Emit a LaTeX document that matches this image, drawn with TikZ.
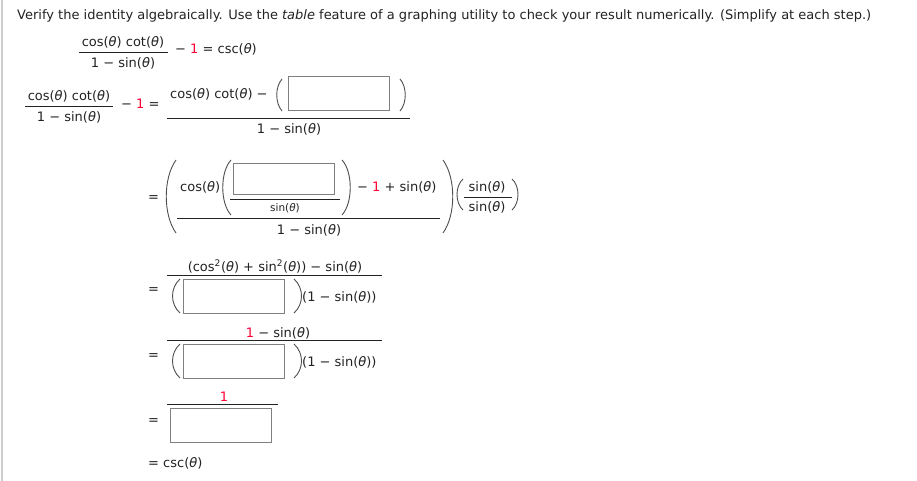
\documentclass[tikz,border=0pt]{standalone}
\usepackage{fontspec}
\setmainfont{DejaVu Sans}
\definecolor{txt}{HTML}{222222}
\definecolor{rd}{HTML}{FF0033}
\definecolor{bx}{HTML}{808080}
\newcommand{\tht}{\textit{θ}}
\newcommand{\rone}{\textcolor{rd}{1}}
\begin{document}
\begin{tikzpicture}[x=1pt,y=-1pt,font=\fontsize{13}{15}\selectfont,text=txt,
  t/.style={inner sep=0pt,anchor=base},
  tl/.style={inner sep=0pt,anchor=base west},
  ansbox/.style={draw=bx,line width=0.9pt,fill=white},
  bar/.style={line width=0.9pt,draw=txt},
  par/.style={draw=txt!80,line width=0.9pt}]
\useasboundingbox (0,0) rectangle (917,481);
\draw[black!20,line width=1.5pt] (2,0) -- (2,481);
\node[tl] (title) at (17,20) {Verify the identity algebraically. Use the \textit{table} feature of a graphing utility to check your result numerically. (Simplify at each step.)};
% eq1
\node[t] (n1) at (123,47) {cos(\tht) cot(\tht)};
\draw[bar] (79,52) -- (168,52);
\node[t] (d1) at (123,68) {1 − sin(\tht)};
\node[tl] (r1) at (175,54) {− \rone{} = csc(\tht)};
% line 2
\node[t] (n2) at (69,101) {cos(\tht) cot(\tht)};
\draw[bar] (25,106) -- (113,106);
\node[t] (d2) at (69,122) {1 − sin(\tht)};
\node[tl] (m2) at (121,109) {− \rone{} =};
\node[tl] (n2b) at (170,99) {cos(\tht) cot(\tht) −};
\draw[par] (282,79) .. controls (275,87) and (275,103) .. (282,111);
\node[ansbox,minimum width=101pt,minimum height=34pt,inner sep=0pt] (b2) at (338.5,93) {};
\draw[par] (400,79) .. controls (407,87) and (407,103) .. (400,111);
\draw[bar] (167,118) -- (410,118);
\node[t] (d2b) at (289,134) {1 − sin(\tht)};
% line 3
\node[tl] (e3) at (148,201) {=};
\draw[par] (176,160) .. controls (163,178) and (163,215) .. (176,233);
\draw[par] (443,160) .. controls (456,178) and (456,215) .. (443,233);
\node[tl] (c3) at (180,191) {cos(\tht)};
\draw[par] (231,160) .. controls (220,172) and (220,203) .. (231,215);
\draw[par] (342,160) .. controls (353,172) and (353,203) .. (342,215);
\node[ansbox,minimum width=101pt,minimum height=31pt,inner sep=0pt] (b3) at (283.5,178.5) {};
\draw[bar] (230,199) -- (340,199);
\node[t,font=\fontsize{10.5}{12}\selectfont] (s3) at (285,211) {sin(\tht)};
\node[tl] (m3) at (357,191) {− \rone{} + sin(\tht)};
\draw[bar] (177,218) -- (440,218);
\node[t] (d3) at (309,234) {1 − sin(\tht)};
\draw[par] (463,179) .. controls (455,186) and (455,203) .. (463,210);
\draw[par] (512,179) .. controls (520,186) and (520,203) .. (512,210);
\node[t] (sn) at (487,191) {sin(\tht)};
\draw[bar] (464,197) -- (512,197);
\node[t] (sd) at (487,211) {sin(\tht)};
% line 4
\node[t] (n4) at (275,271) {(cos\textsuperscript{2}(\tht) + sin\textsuperscript{2}(\tht)) − sin(\tht)};
\draw[bar] (167,275) -- (382,275);
\node[tl] (e4) at (148,293) {=};
\draw[par] (180,279) .. controls (170,288) and (170,304) .. (180,313);
\node[ansbox,minimum width=101pt,minimum height=34pt,inner sep=0pt] (b4) at (233.5,296) {};
\draw[par] (294,279) .. controls (304,288) and (304,304) .. (294,313);
\node[tl] (f4) at (302,301) {(1 − sin(\tht))};
% line 5
\node[t] (n5) at (278,337) {\rone{} − sin(\tht)};
\draw[bar] (167,340) -- (382,340);
\node[tl] (e5) at (148,359) {=};
\draw[par] (180,344) .. controls (170,353) and (170,369) .. (180,378);
\node[ansbox,minimum width=101pt,minimum height=34pt,inner sep=0pt] (b5) at (233.5,361) {};
\draw[par] (294,344) .. controls (304,353) and (304,369) .. (294,378);
\node[tl] (f5) at (302,366) {(1 − sin(\tht))};
% line 6
\node[t] (n6) at (224,401) {\rone};
\draw[bar] (167,404) -- (278,404);
\node[tl] (e6) at (148,424) {=};
\node[ansbox,minimum width=101pt,minimum height=34pt,inner sep=0pt] (b6) at (220.5,425) {};
% line 7
\node[tl] (e7) at (148,467) {= csc(\tht)};
\end{tikzpicture}
\end{document}
